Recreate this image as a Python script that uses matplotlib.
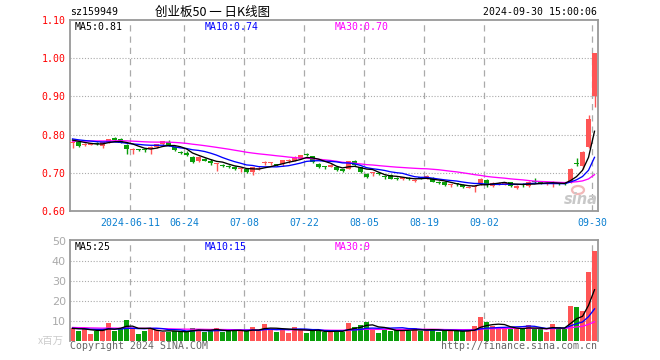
import matplotlib
matplotlib.use('Agg')
import matplotlib.pyplot as plt
from matplotlib.patches import Ellipse
import numpy as np
import pandas as pd

# ---------------- data ----------------
opens = [0.777, 0.781, 0.773, 0.774, 0.778, 0.769, 0.781, 0.789, 0.788, 0.774,
         0.759, 0.761, 0.762, 0.761, 0.767, 0.775, 0.781, 0.767, 0.754, 0.753,
         0.742, 0.730, 0.737, 0.732, 0.722, 0.719, 0.717, 0.716, 0.710, 0.711,
         0.702, 0.711, 0.725, 0.725, 0.722, 0.723, 0.731, 0.732, 0.737, 0.748,
         0.744, 0.723, 0.715, 0.716, 0.716, 0.707, 0.711, 0.730, 0.714, 0.698,
         0.699, 0.697, 0.690, 0.694, 0.685, 0.683, 0.685, 0.679, 0.687, 0.688,
         0.686, 0.675, 0.677, 0.667, 0.671, 0.668, 0.661, 0.663, 0.671, 0.682,
         0.665, 0.671, 0.669, 0.675, 0.659, 0.670, 0.666, 0.676, 0.675, 0.671,
         0.671, 0.673, 0.673, 0.675, 0.726, 0.718, 0.768, 0.901]
highs = [0.786, 0.784, 0.779, 0.779, 0.781, 0.781, 0.789, 0.795, 0.790, 0.775,
         0.765, 0.762, 0.766, 0.769, 0.776, 0.784, 0.786, 0.769, 0.757, 0.756,
         0.743, 0.743, 0.739, 0.735, 0.725, 0.722, 0.720, 0.718, 0.713, 0.713,
         0.716, 0.719, 0.730, 0.729, 0.723, 0.734, 0.735, 0.743, 0.747, 0.752,
         0.745, 0.725, 0.718, 0.722, 0.718, 0.709, 0.731, 0.733, 0.716, 0.699,
         0.703, 0.699, 0.694, 0.697, 0.688, 0.690, 0.688, 0.684, 0.689, 0.694,
         0.688, 0.678, 0.679, 0.671, 0.673, 0.670, 0.665, 0.667, 0.686, 0.684,
         0.676, 0.675, 0.677, 0.677, 0.667, 0.673, 0.678, 0.686, 0.677, 0.675,
         0.678, 0.675, 0.674, 0.712, 0.739, 0.756, 0.852, 1.013]
lows = [0.766, 0.768, 0.770, 0.772, 0.773, 0.764, 0.779, 0.784, 0.777, 0.749,
        0.749, 0.757, 0.754, 0.749, 0.765, 0.773, 0.770, 0.758, 0.748, 0.745,
        0.725, 0.727, 0.730, 0.721, 0.705, 0.714, 0.712, 0.707, 0.702, 0.699,
        0.695, 0.708, 0.721, 0.721, 0.719, 0.718, 0.726, 0.730, 0.735, 0.743,
        0.725, 0.713, 0.710, 0.714, 0.705, 0.702, 0.710, 0.718, 0.700, 0.686,
        0.692, 0.693, 0.685, 0.683, 0.680, 0.680, 0.680, 0.677, 0.683, 0.683,
        0.675, 0.671, 0.666, 0.664, 0.666, 0.660, 0.659, 0.650, 0.669, 0.662,
        0.663, 0.668, 0.667, 0.663, 0.657, 0.664, 0.664, 0.673, 0.671, 0.668,
        0.664, 0.668, 0.669, 0.674, 0.718, 0.711, 0.765, 0.873]
closes = [0.779, 0.771, 0.775, 0.776, 0.776, 0.780, 0.788, 0.787, 0.779, 0.763,
          0.761, 0.759, 0.760, 0.768, 0.775, 0.782, 0.772, 0.760, 0.752, 0.747,
          0.728, 0.742, 0.732, 0.725, 0.723, 0.718, 0.716, 0.709, 0.711, 0.702,
          0.714, 0.712, 0.726, 0.726, 0.721, 0.733, 0.732, 0.742, 0.746, 0.747,
          0.728, 0.716, 0.714, 0.721, 0.707, 0.706, 0.730, 0.721, 0.703, 0.689,
          0.700, 0.696, 0.689, 0.685, 0.684, 0.689, 0.684, 0.680, 0.686, 0.689,
          0.677, 0.674, 0.668, 0.668, 0.670, 0.663, 0.662, 0.664, 0.685, 0.669,
          0.674, 0.672, 0.675, 0.665, 0.666, 0.669, 0.677, 0.675, 0.674, 0.672,
          0.672, 0.672, 0.671, 0.711, 0.724, 0.755, 0.841, 1.013]
volumes = [6.4, 5.2, 6.0, 3.7, 5.2, 6.0, 9.2, 5.2, 6.0, 10.2,
           6.4, 3.7, 5.2, 6.0, 5.5, 4.3, 4.3, 4.8, 4.8, 4.8,
           6.7, 6.2, 4.3, 4.8, 6.7, 4.7, 5.0, 5.0, 5.0, 5.0,
           7.2, 5.0, 8.7, 6.2, 4.7, 6.0, 4.2, 7.2, 5.7, 4.2,
           4.8, 5.0, 4.3, 5.4, 4.7, 4.7, 9.2, 7.2, 8.2, 9.7,
           5.8, 4.2, 5.8, 4.8, 5.5, 5.7, 4.8, 6.7, 4.8, 5.7,
           6.2, 4.3, 5.3, 4.8, 5.2, 4.8, 5.0, 7.3, 11.8, 9.3,
           7.3, 6.2, 6.3, 6.2, 6.2, 5.8, 8.0, 6.0, 6.0, 4.7,
           8.7, 7.0, 5.8, 17.2, 16.7, 14.7, 34.2, 44.8]
# sessions before the visible window (only feed the moving averages)
pre_closes = [0.762, 0.770, 0.768, 0.775, 0.781, 0.785, 0.779, 0.773, 0.776, 0.780,
              0.784, 0.788, 0.786, 0.782, 0.779, 0.777, 0.781, 0.785, 0.790, 0.792,
              0.795, 0.793, 0.790, 0.792, 0.789, 0.786, 0.790, 0.788, 0.785]
pre_volumes = [7.5, 6.8, 7.2, 6.5, 8.0, 7.1, 6.6, 7.4, 6.9, 7.8,
               6.4, 7.0, 6.2, 7.3, 6.8, 6.5, 7.1, 6.7, 6.0, 6.6,
               6.9, 6.3, 6.5, 5.9, 6.4, 6.0, 6.5, 5.8, 6.7]

holidays = ['2024-06-10', '2024-09-16', '2024-09-17']
tick_dates = ['2024-06-11', '2024-06-24', '2024-07-08', '2024-07-22',
              '2024-08-05', '2024-08-19', '2024-09-02', '2024-09-30']
tick_labels = ['2024-06-11', '06-24', '07-08', '07-22', '08-05', '08-19', '09-02', '09-30']
price_ticks = [0.60, 0.70, 0.80, 0.90, 1.00, 1.10]
vol_ticks = [10, 20, 30, 40, 50]

# ---------------- derived ----------------
dates = pd.bdate_range('2024-05-27', '2024-09-30', freq='C', holidays=holidays)
n = len(closes)
x = np.arange(n)
o = np.array(opens); h = np.array(highs); l = np.array(lows); c = np.array(closes)
v = np.array(volumes)
date_str = [d.strftime('%Y-%m-%d') for d in dates][:n]
tick_pos = [date_str.index(d) for d in tick_dates]

all_c = pd.Series(pre_closes + closes)
all_v = pd.Series(pre_volumes + volumes)
npre = len(pre_closes)
ma = {k: all_c.rolling(k, min_periods=1).mean().values[npre:] for k in (5, 10, 30)}
vma = {k: all_v.rolling(k, min_periods=1).mean().values[npre:] for k in (5, 10, 30)}

RED = '#ff5555'
GREEN = '#0a9e0a'
GRID = '#aaaaaa'
SPINE = '#999999'
MONO = 'DejaVu Sans Mono'
FS = 7.1
ma_colors = {5: '#000000', 10: '#0000ff', 30: '#ff00ff'}

up = c >= o
colors = np.where(up, RED, GREEN)

W, H = 660, 360
fig = plt.figure(figsize=(6.6, 3.6), dpi=100)
fig.patch.set_facecolor('white')
ax = fig.add_axes([70 / W, 1 - 211 / H, 528 / W, 191 / H])
axv = fig.add_axes([70 / W, 1 - 341 / H, 528 / W, 101 / H])

xl = (-0.42, n - 1 + 0.58)
tick_x = [p - 0.35 for p in tick_pos]

# ---- price panel ----
for p in price_ticks[1:-1]:
    ax.axhline(p, color=GRID, lw=0.8, ls=(0, (1, 1.6)), zorder=0)
for tx in tick_x:
    ax.axvline(tx, color=GRID, lw=0.9, ls=(0, (5, 4)), zorder=0)
ax.vlines(x, l, h, colors=colors, lw=1.0, zorder=2)
body_h = np.maximum(np.abs(c - o), 0.0028)
ax.bar(x, body_h, bottom=np.minimum(o, c), width=0.85, color=colors, linewidth=0, zorder=3)
for k in (30, 10, 5):
    ax.plot(x, ma[k], color=ma_colors[k], lw=0.95, zorder=4)
ax.set_xlim(*xl)
ax.set_ylim(0.6, 1.1)
ax.set_yticks(price_ticks)
ax.set_yticklabels([f'{p:.2f}' for p in price_ticks], color='red', fontsize=FS, family=MONO)
ax.set_xticks(tick_x)
ax.set_xticklabels(tick_labels, color='#0a7fd0', fontsize=FS, family=MONO)
ax.tick_params(axis='both', length=0)
ax.tick_params(axis='y', pad=3)
ax.tick_params(axis='x', pad=5)
for s in ax.spines.values():
    s.set_color(SPINE); s.set_linewidth(1.3)

ax.text(5 / 528, 1 - 7 / 191, 'MA5:0.81', transform=ax.transAxes, color='#000000',
        fontsize=FS, family=MONO, va='center', ha='left')
ax.text(135 / 528, 1 - 7 / 191, 'MA10:0.74', transform=ax.transAxes, color='#0000ff',
        fontsize=FS, family=MONO, va='center', ha='left')
ax.text(265 / 528, 1 - 7 / 191, 'MA30:0.70', transform=ax.transAxes, color='#ff00ff',
        fontsize=FS, family=MONO, va='center', ha='left')

# sina watermark
ax.add_patch(Ellipse((578 / W, 1 - 190 / H), 12 / W, 8 / H, transform=fig.transFigure,
                     facecolor='none', edgecolor='#f2b8b8', lw=1.6, zorder=1))
fig.text(581 / W, 1 - 200 / H, 'sina', color='#c8c8c8', fontsize=10.5, style='italic',
         weight='bold', ha='center', va='center', family='DejaVu Sans')

# ---- volume panel ----
for vt in vol_ticks[:-1]:
    axv.axhline(vt, color=GRID, lw=0.8, ls=(0, (1, 1.6)), zorder=0)
for tx in tick_x:
    axv.axvline(tx, color=GRID, lw=0.9, ls=(0, (5, 4)), zorder=0)
axv.bar(x, v, width=0.85, color=colors, linewidth=0, zorder=2)
for k in (30, 10, 5):
    axv.plot(x, vma[k], color=ma_colors[k], lw=0.95, zorder=3)
axv.set_xlim(*xl)
axv.set_ylim(0, 50.25)
axv.set_yticks(vol_ticks)
axv.set_yticklabels([str(t) for t in vol_ticks], color='#aaaaaa', fontsize=8, family='DejaVu Sans')
axv.set_xticks([])
axv.tick_params(axis='both', length=0)
axv.tick_params(axis='y', pad=3)
for name, s in axv.spines.items():
    s.set_color(SPINE); s.set_linewidth(1.3)
axv.spines['bottom'].set_visible(False)

axv.text(5 / 528, 1 - 7 / 101, 'MA5:25', transform=axv.transAxes, color='#000000',
         fontsize=FS, family=MONO, va='center', ha='left')
axv.text(135 / 528, 1 - 7 / 101, 'MA10:15', transform=axv.transAxes, color='#0000ff',
         fontsize=FS, family=MONO, va='center', ha='left')
axv.text(265 / 528, 1 - 7 / 101, 'MA30:9', transform=axv.transAxes, color='#ff00ff',
         fontsize=FS, family=MONO, va='center', ha='left')

# ---- header / footer texts ----
fig.text(70 / W, 1 - 12 / H, 'sz159949', fontsize=FS, family=MONO, color='black',
         ha='left', va='center')
fig.text(213 / W, 1 - 12 / H, '创业板50 一 日K线图', fontsize=9,
         family=['Noto Sans CJK SC', 'DejaVu Sans'], color='black', ha='center', va='center')
fig.text(597 / W, 1 - 12 / H, '2024-09-30 15:00:06', fontsize=FS, family=MONO,
         color='black', ha='right', va='center')
fig.text(64 / W, 1 - 341 / H, 'x百万', fontsize=7.5,
         family=['Noto Sans CJK SC', 'DejaVu Sans'], color='#cccccc', ha='right', va='center')
fig.text(70 / W, 1 - 346 / H, 'Copyright 2024 SINA.COM', fontsize=FS, family=MONO,
         color='#666666', ha='left', va='center')
fig.text(597 / W, 1 - 346 / H, 'http://finance.sina.com.cn', fontsize=FS, family=MONO,
         color='#666666', ha='right', va='center')

fig.savefig('out.png', dpi=100, facecolor='white')
